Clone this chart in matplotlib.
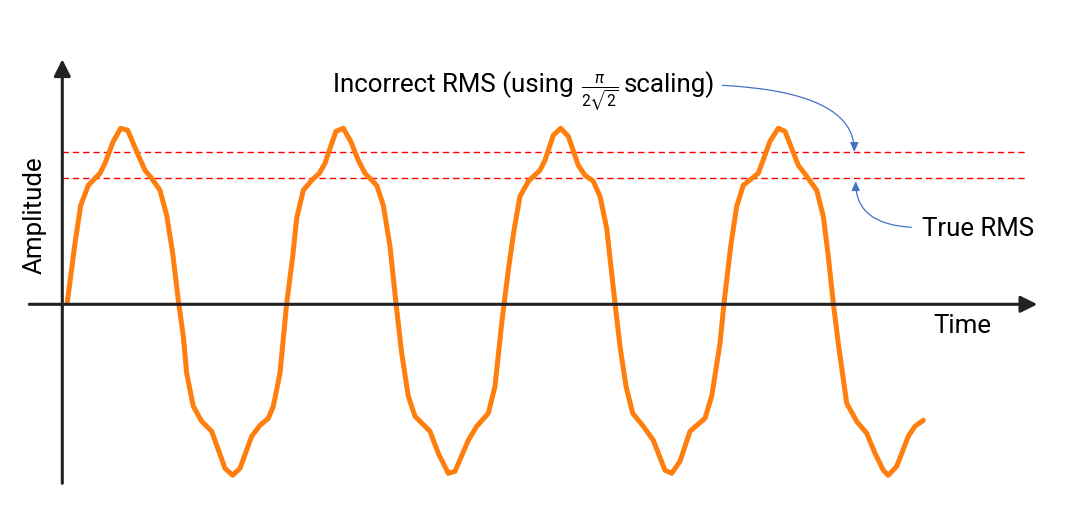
import numpy as np
import matplotlib.pyplot as plt

plt.rcParams['font.family'] = ['Roboto', 'DejaVu Sans']
plt.rcParams['mathtext.fontset'] = 'custom'
plt.rcParams['mathtext.rm'] = 'Roboto'
plt.rcParams['mathtext.it'] = 'Roboto:italic'
plt.rcParams['mathtext.fallback'] = 'stixsans'

# waveform samples (time, amplitude; arbitrary units)
time = [0.50, 1.27, 1.84, 2.60, 3.77, 4.27, 5.10, 5.84, 6.54, 7.60,
        8.27, 8.94, 9.77, 10.44, 11.04, 11.60, 12.10, 12.44, 13.10, 13.94,
        14.94, 16.27, 17.04, 17.77, 18.94, 19.77, 20.60, 21.10, 21.77, 22.44,
        23.04, 23.44, 24.10, 24.94, 25.70, 26.27, 26.77, 27.37, 28.10, 28.84,
        29.60, 30.27, 31.44, 32.10, 32.77, 33.37, 33.94, 34.60, 35.27, 36.77,
        37.60, 38.60, 39.27, 40.60, 41.44, 42.60, 43.27, 43.94, 44.60, 45.17,
        45.77, 46.60, 47.77, 48.27, 49.10, 49.84, 50.60, 51.60, 52.27, 53.10,
        53.77, 54.44, 55.27, 55.77, 56.37, 57.04, 58.10, 59.10, 60.27, 60.94,
        61.77, 62.77, 64.27, 64.94, 65.77, 66.17, 66.84, 67.44, 68.10, 69.60,
        70.77, 71.60, 72.27, 73.60, 74.44, 75.44, 76.10, 76.60, 77.10, 77.60,
        78.44, 79.44, 80.44, 81.27, 82.10, 82.60, 83.44, 84.60, 85.27, 86.10]
amplitude = [0.02, 0.61, 0.99, 1.19, 1.31, 1.41, 1.63, 1.76, 1.74, 1.49,
             1.34, 1.26, 1.14, 0.89, 0.51, 0.04, -0.32, -0.69, -1.02, -1.17,
             -1.27, -1.64, -1.71, -1.64, -1.32, -1.21, -1.14, -1.02, -0.69, 0.01,
             0.48, 0.86, 1.14, 1.24, 1.31, 1.41, 1.56, 1.73, 1.76, 1.63,
             1.44, 1.31, 1.19, 0.99, 0.58, 0.01, -0.49, -0.92, -1.12, -1.27,
             -1.49, -1.69, -1.67, -1.36, -1.22, -1.09, -0.82, -0.19, 0.34, 0.74,
             1.08, 1.23, 1.34, 1.44, 1.69, 1.76, 1.68, 1.39, 1.29, 1.23,
             1.08, 0.76, 0.01, -0.42, -0.82, -1.09, -1.22, -1.36, -1.66, -1.69,
             -1.57, -1.27, -1.14, -0.92, -0.39, 0.01, 0.58, 0.98, 1.19, 1.31,
             1.63, 1.76, 1.73, 1.39, 1.28, 1.14, 0.88, 0.48, 0.01, -0.39,
             -0.99, -1.17, -1.29, -1.49, -1.66, -1.71, -1.62, -1.32, -1.22, -1.16]

rms_incorrect = 1.52
rms_true = 1.26

fig = plt.figure(figsize=(10.69, 5.24), dpi=100)
ax = fig.add_axes([0, 0, 1, 1])
ax.set_xlim(-6.23, 100.67)
ax.set_ylim(-2.197, 3.043)
ax.axis('off')

fs = 18.6

# RMS levels
dash = (0, (4.6, 2.8))
ax.hlines([rms_incorrect, rms_true], 0, 96.5, colors='red', lw=1.0,
          linestyles=[dash, dash], zorder=2)

# waveform
ax.plot(time, amplitude, color='#ff7f0e', lw=3.6, solid_joinstyle='round',
        solid_capstyle='round', zorder=3)

# axes with arrow heads
axis_kw = dict(arrowstyle='-|>,head_length=1.0,head_width=0.5', lw=2.2,
               color='#222222', shrinkA=0, shrinkB=0, mutation_scale=10)
ax.annotate('', xy=(0, 2.45), xytext=(0, -1.79), arrowprops=axis_kw, zorder=4)
ax.annotate('', xy=(97.5, 0), xytext=(-3.3, 0), arrowprops=axis_kw, zorder=4)

ax.text(-2.8, 0.888, 'Amplitude', rotation=90, ha='center', va='center',
        fontsize=fs)
ax.text(87.1, -0.29, 'Time', ha='left', va='baseline', fontsize=fs)

# annotation label, in three pieces so the fraction can be smaller
base_y = 2.12
t1 = ax.text(27.07, base_y, 'Incorrect RMS (using', ha='left', va='baseline',
             fontsize=fs)
t2 = ax.annotate(r'$\frac{\pi}{2\sqrt{2}}$', xy=(1, base_y),
                 xycoords=(t1, 'data'), xytext=(5, 0),
                 textcoords='offset points', ha='left', va='baseline',
                 fontsize=16)
t3 = ax.annotate('scaling)', xy=(1, base_y), xycoords=(t2, 'data'),
                 xytext=(4, 0), textcoords='offset points', ha='left',
                 va='baseline', fontsize=fs)

blue = '#4472c4'
ann_kw = dict(arrowstyle='-|>,head_length=0.55,head_width=0.25', lw=0.9,
              color=blue, shrinkA=0, shrinkB=0, mutation_scale=10)
ax.annotate('', xy=(79.2, rms_incorrect + 0.005), xytext=(66.0, 2.19),
            arrowprops=dict(ann_kw, connectionstyle='angle3,angleA=-3,angleB=90'))
ax.text(85.97, 0.686, 'True RMS', ha='left', va='baseline', fontsize=fs)
ax.annotate('', xy=(79.34, rms_true - 0.03), xytext=(84.9, 0.77),
            arrowprops=dict(ann_kw, connectionstyle='angle3,angleA=177,angleB=90'))

fig.savefig('out.png', dpi=100)
